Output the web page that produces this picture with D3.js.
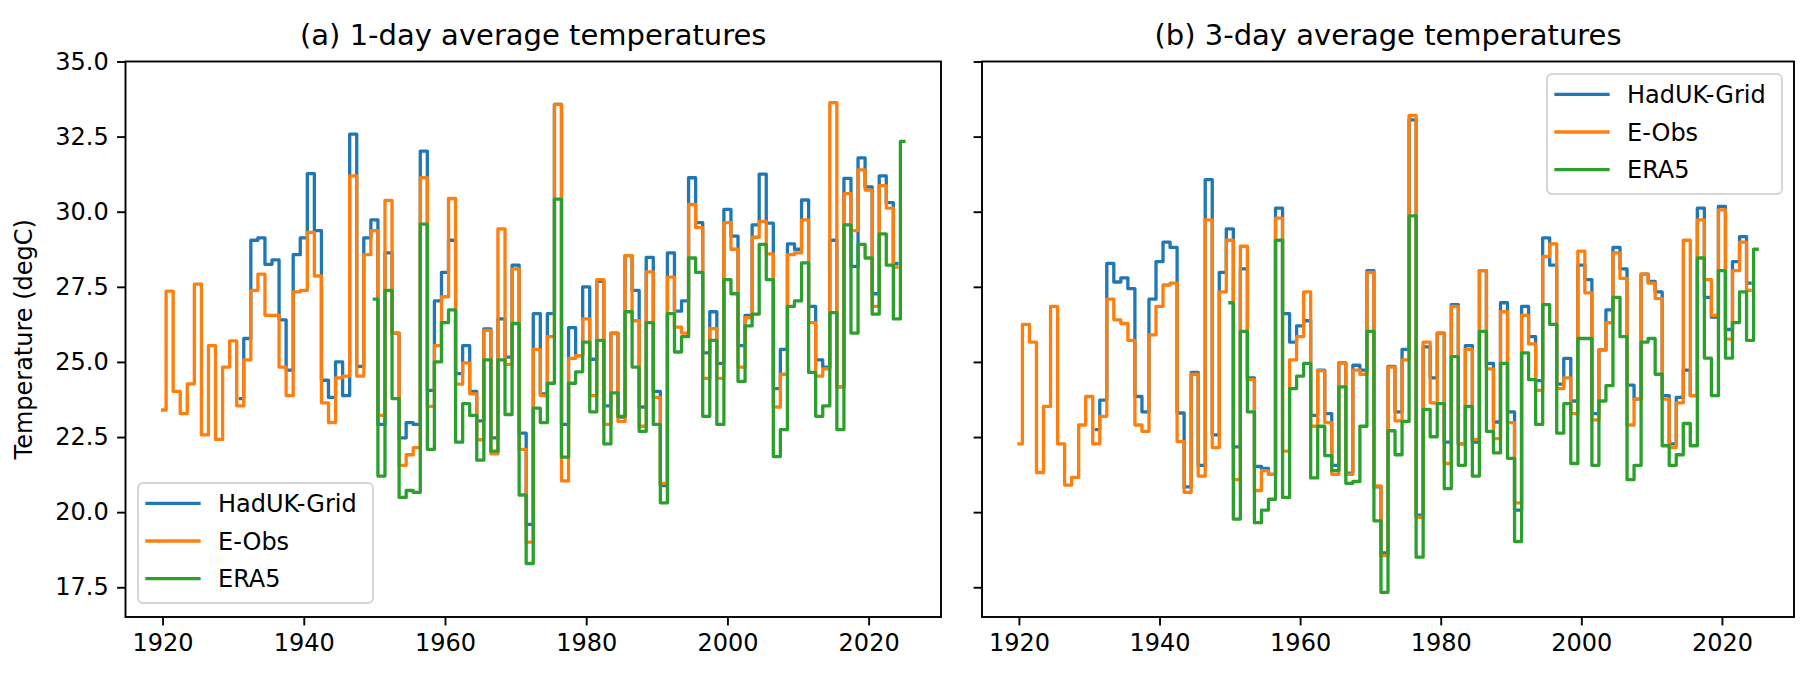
<!DOCTYPE html>
<html>
<head>
<meta charset="utf-8">
<script src="https://cdn.jsdelivr.net/npm/d3@7"></script>
<style>
    body { margin: 0; background: #fff; }
    svg { display: block; font-family: "DejaVu Sans", sans-serif; }
</style>
</head>
<body>
<svg id="chart" width="1804" height="690"></svg>
<script>
// series names, colours and first year of each series
var seriesNames = ["HadUK-Grid", "E-Obs", "ERA5"];
var seriesColors = ["#1f77b4", "#ff7f0e", "#2ca02c"];
var startYears = [1931, 1920, 1950];

var panelTitles = ["(a) 1-day average temperatures", "(b) 3-day average temperatures"];
var yTicks = [17.5, 20, 22.5, 25, 27.5, 30, 32.5, 35];
var xTicks = [1920, 1940, 1960, 1980, 2000, 2020];

// (a) 1-day, 1931-2024
var hadukA = [23.78, 25.78, 29.05, 29.13, 28.25, 28.40, 26.40, 24.73, 28.57, 29.13,
    31.27, 29.37, 24.39, 23.82, 25.00, 23.88, 32.58, 24.85, 29.13, 29.73,
    22.92, 28.63, 25.96, 22.47, 22.98, 22.92, 32.02, 24.05, 27.03, 27.98,
    29.05, 24.61, 25.54, 24.02, 23.04, 26.10, 22.47, 26.43, 25.16, 28.22,
    22.63, 19.59, 26.61, 23.94, 26.61, 33.57, 22.92, 26.14, 25.21, 27.50,
    25.09, 27.68, 23.54, 25.96, 23.16, 28.54, 27.38, 23.50, 28.48, 24.02,
    20.88, 28.63, 26.69, 27.03, 31.13, 29.64, 25.30, 26.67, 24.95, 30.08,
    29.19, 25.54, 26.55, 29.56, 31.25, 29.62, 24.11, 25.42, 28.93, 28.75,
    30.39, 26.85, 25.07, 24.83, 29.05, 24.17, 31.11, 28.18, 31.79, 30.83,
    27.27, 31.19, 30.30, 28.28];
// (a) 1-day, 1920-2024
var eobsA = [23.40, 27.36, 24.02, 23.28, 24.27, 27.59, 22.57, 25.54, 22.42, 24.83,
    25.70, 23.54, 25.07, 27.38, 27.92, 26.55, 26.55, 24.83, 23.88, 27.33,
    27.38, 29.31, 27.86, 23.64, 22.98, 24.47, 24.53, 31.19, 24.53, 28.57,
    29.37, 23.22, 30.38, 25.96, 21.56, 21.91, 22.15, 31.13, 23.52, 25.54,
    27.17, 30.44, 24.26, 24.97, 23.94, 22.41, 26.05, 21.94, 29.43, 24.92,
    28.10, 22.09, 19.00, 25.42, 23.88, 25.84, 33.57, 21.04, 25.12, 25.21,
    26.43, 23.88, 27.74, 22.92, 25.96, 23.02, 28.54, 26.37, 22.86, 28.00,
    23.82, 20.96, 27.82, 26.16, 25.96, 30.24, 29.47, 24.45, 26.11, 24.45,
    29.64, 28.75, 24.83, 26.47, 29.15, 29.68, 28.60, 23.50, 24.59, 28.57,
    28.63, 29.73, 26.31, 24.53, 24.77, 33.63, 24.17, 30.60, 29.37, 31.39,
    30.72, 26.85, 30.87, 30.12, 28.16];
// (a) 1-day, 1950-2025
var era5A = [27.09, 21.20, 27.38, 23.78, 20.49, 20.72, 20.66, 29.59, 22.09, 25.00,
    26.31, 26.73, 22.33, 23.61, 23.22, 21.73, 25.07, 22.03, 25.07, 23.25,
    26.28, 20.57, 18.29, 23.46, 22.98, 24.29, 30.42, 21.83, 24.29, 24.67,
    25.66, 23.34, 25.72, 22.27, 23.97, 23.19, 26.67, 24.83, 22.69, 26.31,
    22.92, 20.31, 26.61, 25.33, 25.84, 28.46, 27.98, 23.19, 25.72, 22.92,
    27.74, 27.27, 24.35, 26.20, 26.59, 28.91, 27.74, 21.85, 22.75, 26.85,
    27.03, 28.30, 24.65, 23.19, 23.54, 26.64, 22.75, 29.56, 25.96, 28.91,
    28.46, 26.59, 29.26, 28.22, 26.43, 32.34];

// (b) 3-day, 1931-2024
var hadukB = [22.75, 23.73, 28.28, 27.66, 27.80, 27.44, 23.85, 23.34, 27.09, 28.34,
    28.99, 28.81, 23.30, 20.84, 24.65, 21.56, 31.07, 22.57, 27.98, 29.43,
    22.17, 28.10, 24.47, 21.52, 21.46, 21.26, 30.12, 26.61, 25.66, 26.20,
    26.37, 23.22, 24.73, 23.28, 21.56, 24.97, 21.30, 24.89, 24.73, 28.04,
    20.84, 18.64, 24.85, 23.34, 25.42, 33.06, 19.90, 25.50, 24.47, 25.96,
    22.33, 26.91, 22.27, 25.54, 22.33, 28.04, 24.95, 23.00, 26.97, 23.34,
    20.07, 26.85, 25.84, 24.38, 29.13, 28.22, 24.26, 25.12, 23.70, 28.22,
    27.74, 23.28, 25.40, 26.73, 28.81, 28.10, 24.23, 23.76, 27.92, 27.68,
    27.33, 23.88, 22.27, 23.82, 24.73, 23.88, 30.12, 27.15, 26.49, 30.18,
    26.08, 28.34, 29.17, 27.62];
// (b) 3-day, 1920-2024
var eobsB = [22.27, 26.25, 25.66, 21.32, 23.52, 26.85, 22.27, 20.90, 21.16, 22.90,
    23.85, 22.27, 23.19, 27.09, 26.40, 26.28, 25.72, 22.90, 22.69, 25.90,
    26.85, 27.56, 27.62, 22.35, 20.66, 24.59, 21.20, 29.73, 22.15, 27.33,
    29.05, 21.08, 28.85, 24.41, 20.72, 21.38, 21.26, 29.79, 22.03, 25.07,
    25.84, 27.33, 22.86, 24.71, 22.98, 21.26, 24.97, 21.26, 24.73, 24.59,
    27.98, 20.87, 18.55, 24.83, 23.04, 25.07, 33.21, 19.83, 25.66, 23.64,
    25.96, 21.62, 26.85, 22.27, 25.42, 22.42, 28.04, 24.77, 22.45, 26.67,
    22.98, 20.31, 26.55, 25.60, 24.05, 28.51, 28.93, 24.11, 24.47, 23.28,
    28.69, 27.30, 23.07, 25.40, 26.31, 28.63, 27.78, 22.90, 23.76, 27.92,
    27.62, 27.11, 23.76, 22.15, 23.64, 29.05, 23.88, 29.73, 27.74, 26.55,
    30.06, 25.76, 28.04, 28.99, 27.38];
// (b) 3-day, 1950-2025
var era5B = [26.97, 19.77, 26.02, 23.34, 19.65, 20.07, 20.43, 29.05, 20.49, 24.11,
    24.53, 24.95, 21.14, 22.86, 21.88, 21.38, 24.17, 20.96, 21.02, 22.86,
    26.02, 19.71, 17.33, 22.71, 21.91, 23.02, 29.86, 18.50, 23.42, 22.51,
    23.61, 20.78, 25.18, 21.56, 23.52, 21.20, 26.02, 22.69, 21.97, 24.95,
    21.79, 19.02, 25.30, 24.41, 22.92, 26.91, 26.25, 22.63, 23.61, 21.62,
    25.78, 25.78, 21.56, 23.70, 24.21, 27.15, 25.84, 21.08, 21.56, 25.66,
    25.78, 24.59, 22.21, 21.56, 21.91, 22.95, 22.21, 28.46, 25.13, 23.88,
    28.04, 25.13, 26.31, 27.33, 25.72, 28.75];

var svg = d3.select("#chart");

// Shared vertical layout
var plotTop = 61.5, plotBottom = 617;
var tickLen = 8.4, tickPad = 8.4;

var panels = [
    {left: 125.5, right: 941, title: panelTitles[0], series: [hadukA, eobsA, era5A], yLabels: true, legend: "lower left"},
    {left: 982, right: 1794, title: panelTitles[1], series: [hadukB, eobsB, era5B], yLabels: false, legend: "upper right"}
];

var y = d3.scaleLinear().domain([16.51, 35]).range([plotBottom, plotTop]);

panels.forEach(function(p){
    var x = d3.scaleLinear().domain([1914.75, 2030.25]).range([p.left, p.right]);
    var g = svg.append("g");

    // Step lines (matplotlib where="mid" equals d3.curveStep)
    var line = d3.line()
        .x(function(d){ return x(d.year); })
        .y(function(d){ return y(d.value); })
        .curve(d3.curveStep);

    p.series.forEach(function(values, i){
        var pts = values.map(function(v, k){ return {year: startYears[i] + k, value: v}; });
        g.append("path")
            .datum(pts)
            .attr("d", line)
            .attr("fill", "none")
            .attr("stroke", seriesColors[i])
            .attr("stroke-width", 3.3)
            .attr("stroke-linejoin", "round")
            .attr("stroke-linecap", "square");
    });

    // Axes
    var xAxis = d3.axisBottom(x).tickValues(xTicks).tickSize(tickLen).tickPadding(tickPad)
        .tickSizeOuter(0).tickFormat(d3.format("d"));
    var yAxis = d3.axisLeft(y).tickValues(yTicks).tickSize(tickLen).tickPadding(tickPad)
        .tickSizeOuter(0).tickFormat(p.yLabels ? d3.format(".1f") : function(){ return ""; });

    var gx = g.append("g").attr("transform", "translate(0," + plotBottom + ")").call(xAxis);
    var gy = g.append("g").attr("transform", "translate(" + p.left + ",0)").call(yAxis);
    [gx, gy].forEach(function(ax){
        ax.select(".domain").remove();
        ax.selectAll(".tick line").attr("stroke", "#000").attr("stroke-width", 1.9);
        ax.selectAll(".tick text").attr("fill", "#000")
            .style("font-size", "24px").style("font-family", "DejaVu Sans");
    });

    // Frame
    g.append("rect")
        .attr("x", p.left).attr("y", plotTop)
        .attr("width", p.right - p.left).attr("height", plotBottom - plotTop)
        .attr("fill", "none").attr("stroke", "#000").attr("stroke-width", 1.9);

    // Title
    g.append("text")
        .attr("x", (p.left + p.right) / 2).attr("y", 45)
        .attr("text-anchor", "middle")
        .style("font-size", "29px")
        .attr("fill", "#000")
        .text(p.title);

    // Legend
    var lw = 235, lh = 120;
    var lx = p.legend == "lower left" ? p.left + 12.5 : p.right - 12 - lw;
    var ly = p.legend == "lower left" ? plotBottom - 14 - lh : plotTop + 12.5;
    var lg = g.append("g").attr("transform", "translate(" + lx + "," + ly + ")");
    lg.append("rect")
        .attr("width", lw).attr("height", lh)
        .attr("rx", 5).attr("ry", 5)
        .attr("fill", "#fff").attr("fill-opacity", 0.8)
        .attr("stroke", "#d5d5d5").attr("stroke-width", 1.9);
    seriesNames.forEach(function(name, i){
        var ry = 20.3 + i * 37.7;
        lg.append("line")
            .attr("x1", 9).attr("x2", 61)
            .attr("y1", ry).attr("y2", ry)
            .attr("stroke", seriesColors[i]).attr("stroke-width", 3.3)
            .attr("stroke-linecap", "square");
        lg.append("text")
            .attr("x", 80).attr("y", ry + 8.6)
            .style("font-size", "24px")
            .attr("fill", "#000")
            .text(name);
    });
});

// Y label on the first panel
svg.append("text")
    .attr("transform", "translate(32," + ((plotTop + plotBottom) / 2) + ") rotate(-90)")
    .attr("text-anchor", "middle")
    .style("font-size", "24px")
    .attr("fill", "#000")
    .text("Temperature (degC)");
</script>
</body>
</html>
